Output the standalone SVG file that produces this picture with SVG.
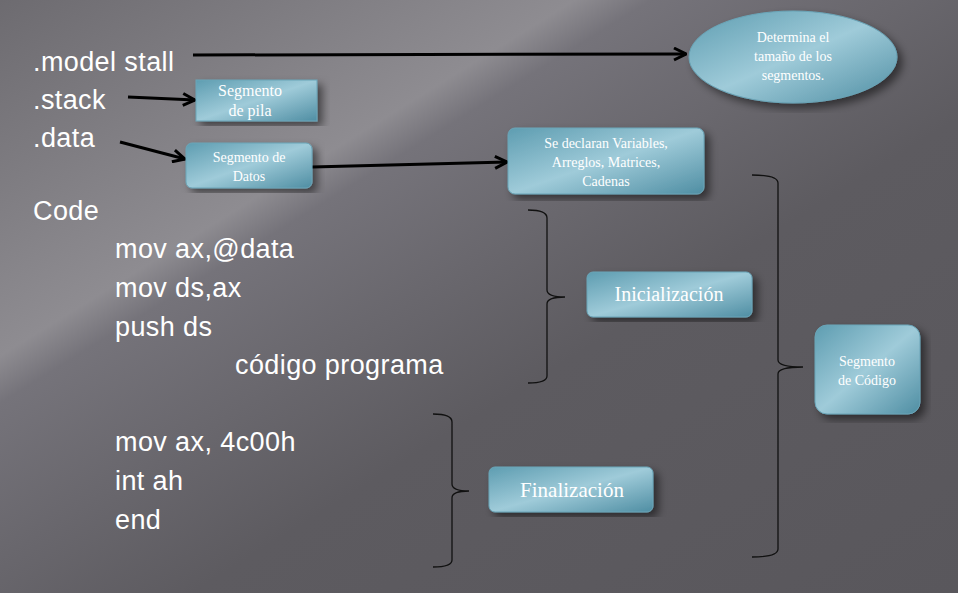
<svg xmlns="http://www.w3.org/2000/svg" width="958" height="593" viewBox="0 0 958 593">
<defs>
<linearGradient id="bg" x1="0" y1="0" x2="1" y2="1">
<stop offset="0" stop-color="#6d6b70"/><stop offset="0.3" stop-color="#8e8c91"/><stop offset="0.34" stop-color="#75737a"/><stop offset="0.6" stop-color="#5d5b60"/><stop offset="1" stop-color="#59575c"/>
</linearGradient>
<linearGradient id="nb" x1="0" y1="0" x2="1" y2="1">
<stop offset="0" stop-color="#5e9db1"/><stop offset="0.5" stop-color="#9fcbd9"/><stop offset="1" stop-color="#4f8ea3"/>
</linearGradient>
<marker id="ah" viewBox="0 0 10 10" refX="9" refY="5" markerWidth="5" markerHeight="5" orient="auto"><path d="M1,1 L9,5 L1,9" fill="none" stroke="#000" stroke-width="2"/></marker>
<filter id="sh"><feDropShadow dx="5" dy="5" stdDeviation="4" flood-color="#000" flood-opacity="0.5"/></filter>
<style>
.c{font-family:"Liberation Sans",Arial,sans-serif;font-size:27px;fill:#fff;letter-spacing:0.4px}
.n{fill:url(#nb);stroke:#6aa5b8;stroke-width:1;filter:url(#sh)}
.t{font-family:"Liberation Serif","Times New Roman",serif;fill:#fff;text-anchor:middle}
.a{stroke:#000;stroke-width:3;fill:none;marker-end:url(#ah)}
.b{stroke:#111;stroke-width:1.3;fill:none}
</style>
</defs>
<rect width="958" height="593" fill="url(#bg)"/>
<g id="code">
<text class="c" x="33" y="71">.model stall</text>
<text class="c" x="33" y="109">.stack</text>
<text class="c" x="33" y="147">.data</text>
<text class="c" x="33" y="220">Code</text>
<text class="c" x="115" y="258">mov ax,@data</text>
<text class="c" x="115" y="297">mov ds,ax</text>
<text class="c" x="115" y="336">push ds</text>
<text class="c" x="235" y="374">código programa</text>
<text class="c" x="115" y="451">mov ax, 4c00h</text>
<text class="c" x="115" y="490">int ah</text>
<text class="c" x="115" y="529">end</text>
</g>
<g id="connectors">
<path class="a" d="M193,55 L686,54"/>
<path class="a" d="M128,97 L195,100"/>
<path class="a" d="M120,142 L185,159"/>
<path class="a" d="M312,167 L507,162"/>
<path class="b" d="M528,210 Q547,210 547,218 L547,290 Q547,297 565,297 Q547,297 547,304 L547,376 Q547,383 528,383"/>
<path class="b" d="M433,414 Q452,414 452,422 L452,484 Q452,491 469,491 Q452,491 452,498 L452,560 Q452,567 433,567"/>
<path class="b" d="M752,175 Q778,175 778,183 L778,360 Q778,367 803,367 Q778,367 778,374 L778,549 Q778,557 752,557"/>
</g>
<g id="n-model"><ellipse class="n" cx="793" cy="57" rx="104" ry="46"/>
<text class="t" font-size="14"><tspan x="793" y="42">Determina el</tspan><tspan x="793" y="61">tamaño de los</tspan><tspan x="793" y="80">segmentos.</tspan></text></g>
<g id="n-pila"><rect class="n" x="196" y="80" width="121" height="41"/>
<text class="t" font-size="16"><tspan x="250" y="96">Segmento</tspan><tspan x="250" y="116">de pila</tspan></text></g>
<g id="n-datos"><rect class="n" x="186" y="143" width="126" height="45" rx="6"/>
<text class="t" font-size="14"><tspan x="249" y="162">Segmento de</tspan><tspan x="249" y="181">Datos</tspan></text></g>
<g id="n-vars"><rect class="n" x="508" y="128" width="196" height="66" rx="7"/>
<text class="t" font-size="14"><tspan x="606" y="148">Se declaran Variables,</tspan><tspan x="606" y="167">Arreglos, Matrices,</tspan><tspan x="606" y="186">Cadenas</tspan></text></g>
<g id="n-init"><rect class="n" x="587" y="272" width="165" height="45" rx="6"/>
<text class="t" font-size="20" x="669" y="301">Inicialización</text></g>
<g id="n-cod"><rect class="n" x="815" y="325" width="105" height="89" rx="12"/>
<text class="t" font-size="14"><tspan x="867" y="366">Segmento</tspan><tspan x="867" y="385">de Código</tspan></text></g>
<g id="n-fin"><rect class="n" x="489" y="467" width="164" height="45" rx="6"/>
<text class="t" font-size="21" x="572" y="497">Finalización</text></g>
</svg>
